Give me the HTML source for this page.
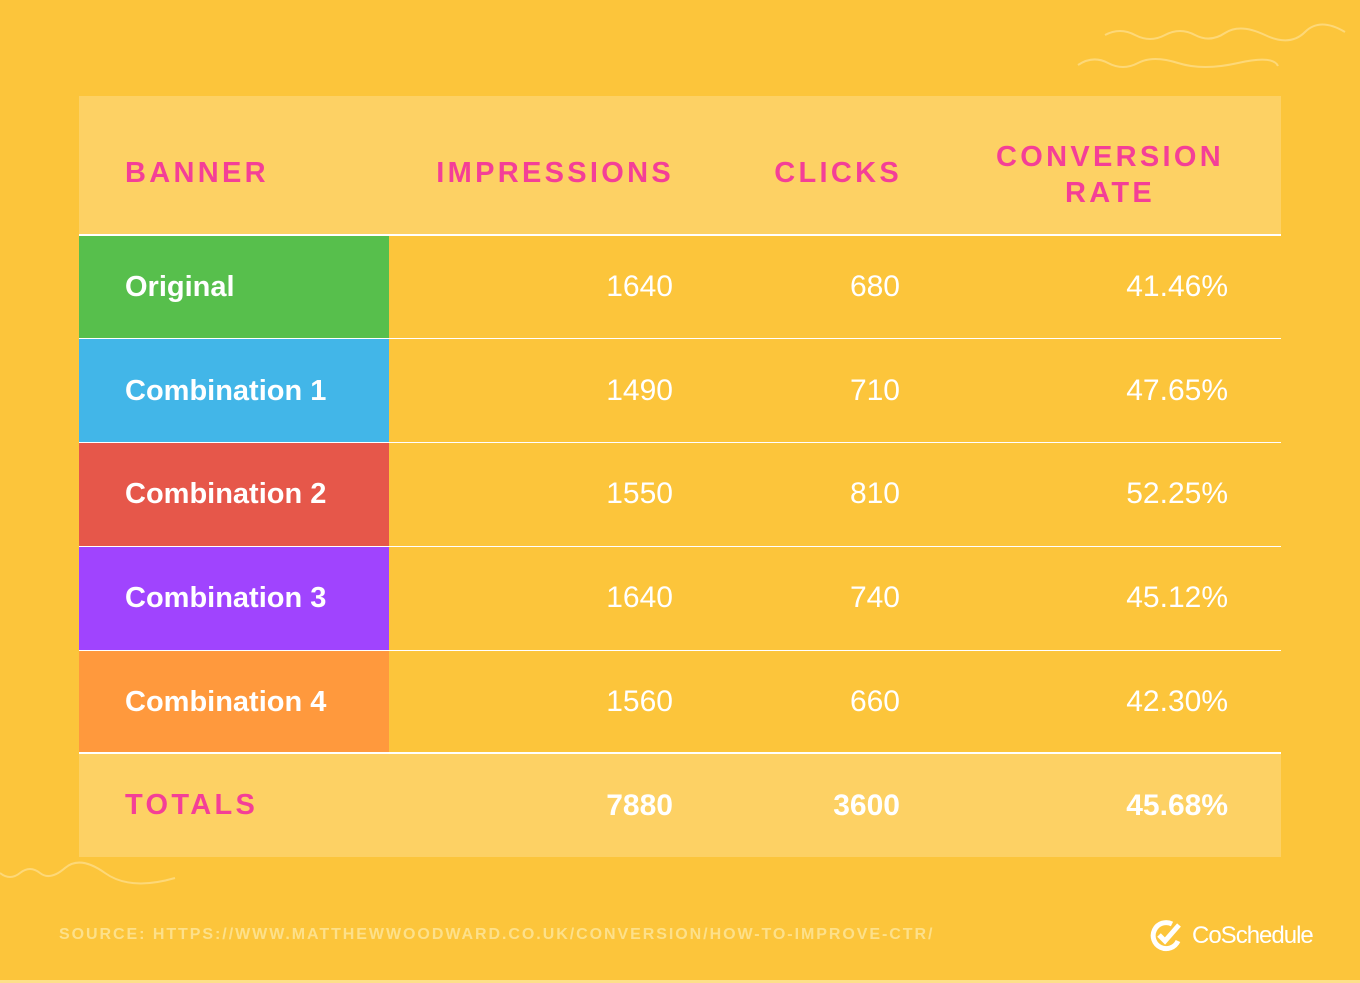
<!DOCTYPE html>
<html><head><style>
body{margin:0;width:1360px;height:983px;background:#FCC53B;font-family:"Liberation Sans",sans-serif;position:relative;overflow:hidden}
.a{position:absolute}
.hdr{background:#FDD164}
.h{color:#F43F97;font-weight:bold;font-size:29px;letter-spacing:3.3px;text-align:right}
.lab{color:#fff;font-weight:bold;font-size:29px;left:125px}
.num{color:#fff;font-size:30px;text-align:right}
.line{background:#fff;height:2px;left:79px;width:1202px}
</style></head><body>
<svg class="a" style="left:0;top:0" width="1360" height="983">
<path d="M1105 35 q15 -8 30 0 t30 0 t30 0 t30 -2 t40 2 t40 -3 t40 0" stroke="#FDD878" stroke-width="2" fill="none"/>
<path d="M1078 65 q15 -10 30 -2 t30 0 t40 0 t60 0 t40 3" stroke="#FDD878" stroke-width="2" fill="none"/>
<path d="M0 873 q10 8 20 0 t20 0 t25 -5 t40 5 t70 5" stroke="#FDD878" stroke-width="2" fill="none"/>
<rect x="0" y="980" width="1360" height="3" fill="#FDE08A"/>
</svg>
<div class="a hdr" style="left:79px;top:96px;width:1202px;height:139px"></div>
<div class="a hdr" style="left:79px;top:754px;width:1202px;height:103px"></div>
<div class="a line" style="top:234px"></div>
<div class="a line" style="top:338px;height:1px"></div>
<div class="a line" style="top:442px;height:1px"></div>
<div class="a line" style="top:546px;height:1px"></div>
<div class="a line" style="top:650px;height:1px"></div>
<div class="a line" style="top:752px"></div>
<div class="a" style="left:79px;top:236px;width:310px;height:102px;background:#57BF4C"></div>
<div class="a" style="left:79px;top:339px;width:310px;height:103px;background:#42B6E8"></div>
<div class="a" style="left:79px;top:443px;width:310px;height:103px;background:#E6574A"></div>
<div class="a" style="left:79px;top:547px;width:310px;height:103px;background:#A044FE"></div>
<div class="a" style="left:79px;top:651px;width:310px;height:101px;background:#FF993D"></div>
<div class="a h" style="left:125px;top:157px;text-align:left">BANNER</div>
<div class="a h" style="right:686px;top:157px">IMPRESSIONS</div>
<div class="a h" style="right:458px;top:157px">CLICKS</div>
<div class="a h" style="left:980px;width:260px;top:139px;text-align:center;line-height:36px">CONVERSION<br>RATE</div>
<div class="a lab" style="top:271px">Original</div>
<div class="a lab" style="top:375px">Combination 1</div>
<div class="a lab" style="top:478px">Combination 2</div>
<div class="a lab" style="top:582px">Combination 3</div>
<div class="a lab" style="top:686px">Combination 4</div>
<div class="a h" style="left:125px;top:789px;text-align:left">TOTALS</div>
<div class="a num" style="right:687px;top:270px">1640</div><div class="a num" style="right:460px;top:270px">680</div><div class="a num" style="right:132px;top:270px">41.46%</div>
<div class="a num" style="right:687px;top:374px">1490</div><div class="a num" style="right:460px;top:374px">710</div><div class="a num" style="right:132px;top:374px">47.65%</div>
<div class="a num" style="right:687px;top:477px">1550</div><div class="a num" style="right:460px;top:477px">810</div><div class="a num" style="right:132px;top:477px">52.25%</div>
<div class="a num" style="right:687px;top:581px">1640</div><div class="a num" style="right:460px;top:581px">740</div><div class="a num" style="right:132px;top:581px">45.12%</div>
<div class="a num" style="right:687px;top:685px">1560</div><div class="a num" style="right:460px;top:685px">660</div><div class="a num" style="right:132px;top:685px">42.30%</div>
<div class="a num" style="right:687px;top:789px;font-weight:bold">7880</div><div class="a num" style="right:460px;top:789px;font-weight:bold">3600</div><div class="a num" style="right:132px;top:789px;font-weight:bold">45.68%</div>
<div class="a" style="left:59px;top:926px;font-size:16px;font-weight:bold;color:#FDE08A;letter-spacing:1.95px">SOURCE: HTTPS://WWW.MATTHEWWOODWARD.CO.UK/CONVERSION/HOW-TO-IMPROVE-CTR/</div>
<svg class="a" style="left:1150px;top:919px" width="36" height="34"><path d="M22 5 A13 13 0 1 0 28 22" stroke="#fff" stroke-width="5" fill="none"/><path d="M9 16 l6 6 l14 -16" stroke="#fff" stroke-width="5" fill="none"/></svg>
<div class="a" style="left:1192px;top:922px;font-size:24px;color:#fff;letter-spacing:-1px">CoSchedule</div>
</body></html>
